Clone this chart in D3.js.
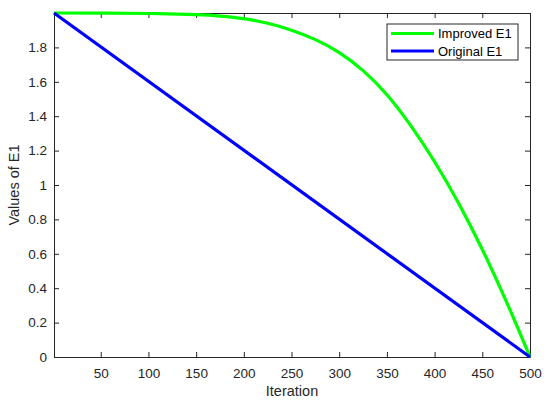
<!DOCTYPE html>
<html>
<head>
<meta charset="utf-8">
<script src="https://cdn.jsdelivr.net/npm/d3@7"></script>
<style>
  body { margin: 0; background: #fff; }
  svg { font-family: "Liberation Sans", Arial, sans-serif; }
  .axis path, .axis line { stroke: #262626; }
  .axis text { fill: #262626; font-size: 13.5px; }
</style>
</head>
<body>
<div id="graph"></div>
<script>
// values
var improvedIter = [1, 50, 100, 150, 175, 200, 225, 250, 275, 300, 325, 350, 375, 400, 425, 450, 475, 500]
var improvedVal  = [2.0, 1.9995, 1.997, 1.99, 1.982, 1.967, 1.94, 1.9, 1.845, 1.77, 1.665, 1.525, 1.345, 1.135, 0.895, 0.625, 0.325, 0]
var originalIter = [1, 500]
var originalVal  = [2.0, 0]

var xTicks = [50, 100, 150, 200, 250, 300, 350, 400, 450, 500]
var yTicks = [0, 0.2, 0.4, 0.6, 0.8, 1, 1.2, 1.4, 1.6, 1.8]

var series = [
  {name: 'Improved E1', color: '#00ff00', pts: improvedIter.map((d, i) => ({x: d, y: improvedVal[i]}))},
  {name: 'Original E1', color: '#0000ff', pts: originalIter.map((d, i) => ({x: d, y: originalVal[i]}))},
]

var W = 550, H = 406
var margin = {left: 54, top: 13, right: 20, bottom: 49}
var width = W - margin.left - margin.right
var height = H - margin.top - margin.bottom

var svg = d3.select('#graph').append('svg').attr('width', W).attr('height', H)
var g = svg.append('g').attr('transform', `translate(${margin.left},${margin.top})`)

var x = d3.scaleLinear().domain([1, 500]).range([0, width])
var y = d3.scaleLinear().domain([0, 2]).range([height, 0])

var line = d3.line()
  .x(d => x(d.x))
  .y(d => y(d.y))
  .curve(d3.curveNatural)

g.append('defs').append('clipPath').attr('id', 'clip')
  .append('rect').attr('x', -2).attr('y', -2).attr('width', width + 4).attr('height', height + 4)

var tickFmt = d => d3.format('')(+d.toFixed(1))

// bottom/left with labels, top/right mirror ticks only
g.append('g').attr('class', 'axis').attr('transform', `translate(0,${height})`)
  .call(d3.axisBottom(x).tickValues(xTicks).tickSizeInner(-5).tickSizeOuter(0).tickPadding(11))
g.append('g').attr('class', 'axis')
  .call(d3.axisLeft(y).tickValues(yTicks).tickFormat(tickFmt).tickSizeInner(-5).tickSizeOuter(0).tickPadding(7))
g.append('g').attr('class', 'axis')
  .call(d3.axisTop(x).tickValues(xTicks).tickSizeInner(-5).tickSizeOuter(0).tickFormat(''))
g.append('g').attr('class', 'axis').attr('transform', `translate(${width},0)`)
  .call(d3.axisRight(y).tickValues(yTicks).tickSizeInner(-5).tickSizeOuter(0).tickFormat(''))

g.append('g').attr('clip-path', 'url(#clip)')
  .selectAll('path').data(series).join('path')
  .attr('d', d => line(d.pts))
  .attr('fill', 'none')
  .attr('stroke', d => d.color)
  .attr('stroke-width', 3.2)

// axis labels
svg.append('text')
  .attr('x', margin.left + width / 2).attr('y', 396)
  .attr('text-anchor', 'middle').attr('font-size', 14.5).attr('fill', '#262626')
  .text('Iteration')
svg.append('text')
  .attr('transform', `translate(19,${margin.top + height / 2}) rotate(-90)`)
  .attr('text-anchor', 'middle').attr('font-size', 14.5).attr('fill', '#262626')
  .text('Values of E1')

// legend
var lg = svg.append('g').attr('transform', 'translate(387,24)')
lg.append('rect').attr('width', 131).attr('height', 36)
  .attr('fill', '#fff').attr('stroke', '#262626').attr('stroke-width', 1)
var items = lg.selectAll('g.item').data(series).join('g')
  .attr('transform', (d, i) => `translate(0,${9.5 + i * 17.5})`)
items.append('line').attr('x1', 4).attr('x2', 47)
  .attr('stroke', d => d.color).attr('stroke-width', 3.2)
items.append('text').attr('x', 51).attr('dy', '0.35em')
  .attr('font-size', 13).attr('fill', '#000')
  .text(d => d.name)
</script>
</body>
</html>
